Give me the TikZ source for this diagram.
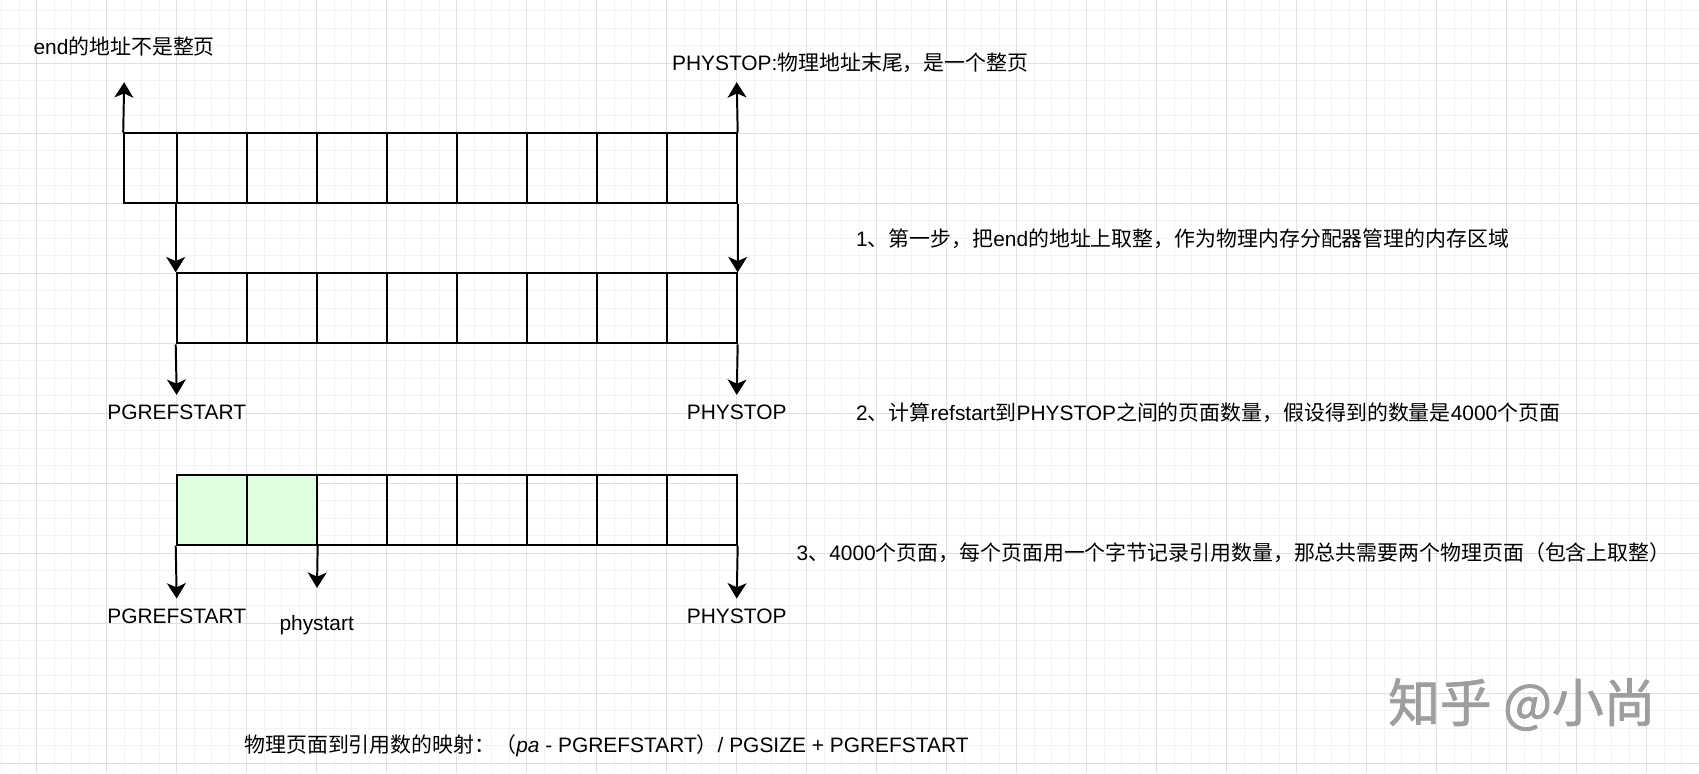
\documentclass[tikz,border=0pt]{standalone}
\usepackage{fontspec}
\setmainfont{Liberation Sans}
\newfontfamily\zhfont{Noto Sans CJK SC}
\newfontfamily\markfont[FakeBold=1.5]{Noto Sans CJK SC}
\newcommand{\zh}[1]{{\zhfont #1}}
\usetikzlibrary{arrows.meta}
\definecolor{refGreen}{HTML}{E0FFE0}
\definecolor{gridMinor}{HTML}{F3F3F3}
\definecolor{gridMajor}{HTML}{E0E0E0}
\definecolor{markGray}{HTML}{9E9E9E}

\begin{document}
\begin{tikzpicture}[font=\fontsize{8.5pt}{10pt}\selectfont]
        \tikzstyle{cell} = [rectangle, draw, line width=0.8pt, minimum width=1cm, minimum height=1cm, inner sep=0pt]
        \tikzstyle{link} = [-{Stealth[length=0.22cm, width=0.27cm, inset=0.06cm]}, line width=0.8pt]
        \tikzstyle{addr} = [inner sep=4pt]
        \tikzstyle{note} = [anchor=west, inner sep=0pt]

\fill[white] (-0.524,-10.139) rectangle (23.746,0.904);
        \useasboundingbox (-0.524,-10.139) rectangle (23.746,0.904);
        \draw[gridMinor, line width=0.4pt, step=0.25] (-0.524,-10.139) grid (23.746,0.904);
        \draw[gridMajor, line width=0.4pt, step=1] (-0.524,-10.139) grid (23.746,0.904);

% memory rows
        \node[cell, minimum width=0.75cm] (endRow0) at (1.625,-1.5) {};
        \foreach \i in {1,...,8} {
            \node[cell] (endRow\i) at (\i+1.5,-1.5) {};
            \node[cell] (alignRow\i) at (\i+1.5,-3.5) {};
        }
        \foreach \i in {1,2}
            \node[cell, fill=refGreen] (refRow\i) at (\i+1.5,-6.375) {};
        \foreach \i in {3,...,8}
            \node[cell] (refRow\i) at (\i+1.5,-6.375) {};

% labels
        \node (endText) at (1.25,0.24) {end\zh{的地址不是整页}};
        \node[note] (stopText) at (9.07,0) {PHYSTOP:\zh{物理地址末尾，是一个整页}};
        \coordinate (endTip) at (1.25,-0.27);
        \coordinate (stopTip) at (10,-0.27);

\node[addr] (alignStart) at (2,-4.99) {PGREFSTART};
        \node[addr] (alignStop) at (10,-4.99) {PHYSTOP};
        \node[addr] (refStart) at (2,-7.9) {PGREFSTART};
        \node[addr] (phyStart) at (4,-8.02) {phystart};
        \node[addr] (refStop) at (10,-7.9) {PHYSTOP};

\node[note] (stepOne) at (11.7,-2.5) {1\zh{、第一步，把}end\zh{的地址上取整，作为物理内存分配器管理的内存区域}};
        \node[note] (stepTwo) at (11.7,-4.99) {2\zh{、计算}refstart\zh{到}PHYSTOP\zh{之间的页面数量，假设得到的数量是}4000\zh{个页面}};
        \node[note] (stepThree) at (10.85,-6.99) {3\zh{、}4000\zh{个页面，每个页面用一个字节记录引用数量，那总共需要两个物理页面（包含上取整）}};
        \node[note] (mapping) at (2.96,-9.75) {\zh{物理页面到引用数的映射：（}\textit{pa} - PGREFSTART\zh{）}/ PGSIZE + PGREFSTART};
        \node[note, text=markGray, font=\markfont\fontsize{21pt}{25pt}\selectfont] (mark) at (19.3,-9.16) {知乎 @小尚};

% arrows
        \draw[link] (endRow0.north west) -- (endTip);
        \draw[link] (endRow8.north east) -- (stopTip);
        \draw[link] (endRow1.south west) -- (alignRow1.north west);
        \draw[link] (endRow8.south east) -- (alignRow8.north east);
        \draw[link] (alignRow1.south west) -- (alignStart.north);
        \draw[link] (alignRow8.south east) -- (alignStop.north);
        \draw[link] (refRow1.south west) -- (refStart.north);
        \draw[link, shorten >=6.8pt] (refRow2.south east) -- (phyStart.north);
        \draw[link] (refRow8.south east) -- (refStop.north);

    \end{tikzpicture}
\end{document}
